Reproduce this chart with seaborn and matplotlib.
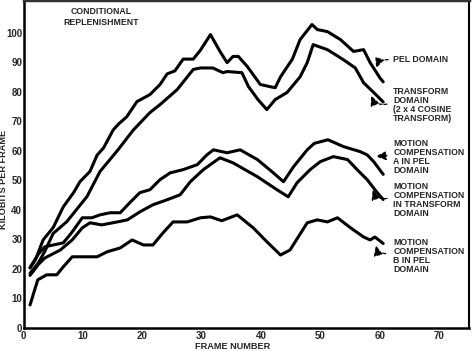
import pandas as pd
import seaborn as sns
import matplotlib.pyplot as plt

# ---- Data ----
pel_frames = [1.1, 2.0, 3.3, 5.0, 6.7, 8.5, 9.5, 11.2, 12.4, 13.5, 15.1, 16.0, 17.4, 19.1, 21.3,
              23.0, 24.2, 25.5, 26.9, 28.6, 29.8, 31.5, 33.1, 34.3, 35.3, 36.2, 37.7, 39.9,
              42.4, 43.3, 45.3, 46.6, 48.6, 49.5, 51.2, 53.4, 55.6, 57.3, 58.4, 60.1, 60.6]
pel_kbits = [20.3, 23.0, 29.8, 34.0, 41.0, 46.0, 49.5, 53.0, 58.5, 61.0, 67.0, 69.0, 71.5, 76.6, 79.0,
             82.4, 86.0, 87.0, 91.0, 91.0, 94.0, 99.3, 93.6, 89.8, 91.9, 91.9, 88.5, 82.4,
             81.3, 85.0, 91.0, 97.6, 102.7, 101.0, 100.3, 97.6, 93.6, 94.2, 89.8, 84.5, 83.3]

tr_frames = [1.1, 2.5, 3.6, 5.0, 7.3, 10.7, 12.9, 15.8, 18.5, 21.3, 23.0, 25.9, 28.6, 29.8, 31.9,
             33.6, 34.3, 36.8, 37.9, 39.5, 41.0, 42.4, 44.4, 46.6, 47.8, 48.8, 51.2, 53.9,
             55.9, 57.3, 59.0, 60.6]
tr_kbits = [18.5, 22.0, 26.0, 32.0, 36.0, 44.5, 53.0, 60.0, 67.0, 72.9, 75.6, 80.7, 87.5, 88.0, 88.0,
            86.4, 86.8, 86.4, 81.7, 77.3, 73.9, 77.3, 79.7, 85.0, 89.8, 95.9, 94.2, 90.8,
            88.0, 83.0, 79.7, 76.5]

mca_frames = [1.1, 2.5, 3.6, 5.0, 6.7, 8.2, 9.9, 11.5, 12.9, 14.6, 16.3, 17.9, 19.6, 21.3, 23.0,
              24.7, 26.9, 29.3, 30.9, 32.0, 34.3, 36.5, 39.4, 42.1, 43.8, 45.5, 47.8, 49.0,
              51.3, 53.9, 56.7, 57.9, 59.0, 60.6]
mca_kbits = [20.5, 25.0, 27.5, 28.1, 28.8, 32.5, 37.3, 37.3, 38.3, 39.0, 39.0, 42.4, 45.8, 46.8, 50.2,
             52.5, 53.6, 55.3, 58.6, 60.3, 59.3, 60.3, 57.0, 52.5, 49.5, 54.6, 60.3, 62.5,
             63.7, 61.4, 59.7, 58.6, 56.3, 52.0]

mct_frames = [1.1, 2.5, 3.6, 6.2, 8.2, 9.9, 11.2, 13.2, 15.8, 17.5, 19.6, 21.8, 24.2, 26.4, 28.1,
              30.3, 33.1, 35.3, 39.4, 42.7, 44.6, 46.1, 48.3, 50.0, 52.2, 54.6, 56.2, 57.9,
              59.6, 60.6]
mct_kbits = [17.8, 21.5, 23.7, 26.4, 29.8, 33.9, 35.6, 34.9, 35.9, 36.6, 39.3, 41.7, 43.4, 45.1, 49.5,
             53.6, 57.6, 55.9, 51.2, 46.8, 44.4, 49.2, 53.6, 56.3, 58.0, 57.0, 53.6, 50.2,
             45.8, 43.5]

mcb_frames = [1.1, 2.4, 3.9, 5.6, 6.7, 8.2, 10.0, 12.4, 14.1, 16.3, 18.3, 20.2, 21.8, 23.5, 25.2,
              27.6, 29.8, 31.5, 33.4, 36.0, 38.7, 41.0, 43.3, 44.9, 47.8, 49.5, 51.2, 52.9,
              55.1, 57.3, 58.4, 59.2, 60.6]
mcb_kbits = [7.8, 16.3, 18.0, 18.0, 20.7, 24.1, 24.1, 24.1, 25.8, 27.1, 29.8, 28.1, 28.1, 32.2, 35.9,
             35.9, 37.3, 37.6, 36.3, 38.3, 33.9, 29.2, 24.7, 26.4, 35.6, 36.6, 35.9, 37.3,
             33.9, 30.8, 29.8, 30.8, 28.6]

series_frames = [pel_frames, tr_frames, mca_frames, mct_frames, mcb_frames]
series_kbits = [pel_kbits, tr_kbits, mca_kbits, mct_kbits, mcb_kbits]

labels = ["PEL DOMAIN",
          "TRANSFORM\nDOMAIN\n(2 x 4 COSINE\nTRANSFORM)",
          "MOTION\nCOMPENSATION\nA IN PEL\nDOMAIN",
          "MOTION\nCOMPENSATION\nIN TRANSFORM\nDOMAIN",
          "MOTION\nCOMPENSATION\nB IN PEL\nDOMAIN"]
label_y = [90.8, 75.3, 58.0, 43.4, 24.4]
arrow_from = [(61.9, 90.8), (61.7, 76.0), (61.7, 58.4), (61.7, 44.0), (61.5, 25.2)]
arrow_to = [(59.3, 87.0), (58.4, 79.6), (58.9, 58.0), (58.7, 47.8), (59.3, 28.9)]
arrow_rad = [0.45, -0.5, 0.0, -0.5, -0.5]

x_ticks = [0, 10, 20, 30, 40, 50, 60, 70]
y_ticks = [0, 10, 20, 30, 40, 50, 60, 70, 80, 90, 100]

# ---- Plot ----
sns.set_theme(style="white")
plt.rcParams["font.family"] = ["Liberation Sans", "DejaVu Sans"]
plt.rcParams["font.weight"] = "bold"

fig = plt.figure(figsize=(4.74, 3.51), dpi=100)
ax = fig.add_axes([0.0496, 0.0655, 0.9404, 0.9345])

for fr, kb in zip(series_frames, series_kbits):
    df = pd.DataFrame({"frame": fr, "kbits": kb})
    sns.lineplot(data=df, x="frame", y="kbits", color="black", lw=2.2,
                 sort=False, estimator=None, ax=ax)

for lab, ly in zip(labels, label_y):
    ax.text(62.3, ly, lab, fontsize=6.3, fontweight="bold", va="center", ha="left",
            linespacing=1.0)

for (x0, y0), (x1, y1), rad in zip(arrow_from, arrow_to, arrow_rad):
    ax.annotate("", xy=(x1, y1), xytext=(x0, y0),
                arrowprops=dict(arrowstyle="-|>,head_length=0.5,head_width=0.22",
                                color="black", lw=0.9, ls=(0, (2.5, 1.5)),
                                connectionstyle=f"arc3,rad={rad}"))

ax.text(13.1, 105.3, "CONDITIONAL\nREPLENISHMENT", fontsize=6.3, fontweight="bold",
        ha="center", va="center", linespacing=1.3)

ax.set_xlim(0, 75.1)
ax.set_ylim(0, 111)
ax.set_xticks(x_ticks)
ax.set_yticks(y_ticks)
ax.tick_params(direction="in", length=5, width=1.3, labelsize=7, pad=2, color="black")
ax.tick_params(axis="y", pad=1)
for lab in ax.get_xticklabels() + ax.get_yticklabels():
    lab.set_fontweight("bold")
ax.set_xlabel("")
ax.set_ylabel("")

for side in ["left", "bottom"]:
    ax.spines[side].set_color("black")
    ax.spines[side].set_linewidth(1.8)
ax.spines["top"].set_color("#333333")
ax.spines["top"].set_linewidth(2.5)
ax.spines["right"].set_color("black")
ax.spines["right"].set_linewidth(1.5)

fig.text(0.49, 0.012, "FRAME NUMBER", fontsize=6.6, fontweight="bold", ha="center", va="center")
fig.text(0.008, 0.49, "KILOBITS PER FRAME", fontsize=6.6, fontweight="bold",
         rotation=90, ha="center", va="center")

plt.savefig("out.png", dpi=100)
plt.close()
